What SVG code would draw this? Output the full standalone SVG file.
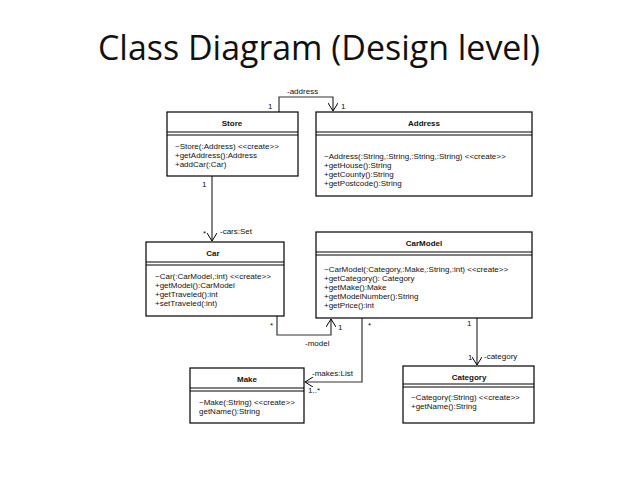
<svg xmlns="http://www.w3.org/2000/svg" width="638" height="478" viewBox="0 0 638 478">
<defs>
<style>
.b{fill:#fff;stroke:#000;stroke-width:1.2}
.l{stroke:#000;stroke-width:1;fill:none}
.c{stroke:#333;stroke-width:1.2;fill:none}
text{font-family:"Liberation Sans",Arial,sans-serif;font-size:8px;fill:#111}
.h{font-weight:bold;text-anchor:middle}
</style>
<marker id="a" markerWidth="10" markerHeight="10" refX="8" refY="5" orient="auto" markerUnits="userSpaceOnUse"><path d="M0,0 L8,5 L0,10" fill="none" stroke="#000" stroke-width="1"/></marker>
</defs>
<rect width="638" height="478" fill="#fff"/>
<text x="319" y="60" style="font-family:'Open Sans','Liberation Sans',sans-serif;font-size:34px;text-anchor:middle" textLength="442" lengthAdjust="spacingAndGlyphs">Class Diagram (Design level)</text>
<g id="connectors">
<path class="c" d="M279,112 V97 H333 V111" marker-end="url(#a)"/>
<text x="287" y="94">-address</text><text x="268" y="109">1</text><text x="341" y="109">1</text>
<path class="c" d="M212,176 V241" marker-end="url(#a)"/>
<text x="202" y="187">1</text><text x="203" y="236">*</text><text x="220" y="234">-cars:Set</text>
<path class="c" d="M277,316 V335 H331 V319" marker-end="url(#a)"/>
<text x="270" y="328">*</text><text x="338" y="330">1</text><text x="305" y="346">-model</text>
<path class="c" d="M362,318 V382 H305" marker-end="url(#a)"/>
<text x="368" y="328">*</text><text x="312" y="376">-makes:List</text><text x="308" y="393">1..*</text>
<path class="c" d="M477,318 V365" marker-end="url(#a)"/>
<text x="467" y="326">1</text><text x="468" y="360">1</text><text x="484" y="359">-category</text>
</g>
<g id="Store">
<rect class="b" x="167" y="112" width="131" height="64"/>
<path class="l" d="M167,132H298M167,135H298"/>
<text class="h" x="232" y="126">Store</text>
<text x="175" y="149">~Store(:Address) &lt;&lt;create&gt;&gt;</text>
<text x="175" y="158">+getAddress():Address</text>
<text x="175" y="167">+addCar(:Car)</text>
</g>
<g id="Address">
<rect class="b" x="316" y="112" width="216" height="84"/>
<path class="l" d="M316,132H532M316,135H532"/>
<text class="h" x="424" y="126">Address</text>
<text x="324" y="159">~Address(:String,:String,:String,:String) &lt;&lt;create&gt;&gt;</text>
<text x="324" y="168">+getHouse():String</text>
<text x="324" y="177">+getCounty():String</text>
<text x="324" y="186">+getPostcode():String</text>
</g>
<g id="Car">
<rect class="b" x="146" y="242" width="138" height="74"/>
<path class="l" d="M146,262H284M146,265H284"/>
<text class="h" x="213" y="256">Car</text>
<text x="155" y="279">~Car(:CarModel,:int) &lt;&lt;create&gt;&gt;</text>
<text x="155" y="288">+getModel():CarModel</text>
<text x="155" y="297">+getTraveled():int</text>
<text x="155" y="306">+setTraveled(:int)</text>
</g>
<g id="CarModel">
<rect class="b" x="316" y="232" width="216" height="86"/>
<path class="l" d="M316,252H532M316,255H532"/>
<text class="h" x="424" y="246">CarModel</text>
<text x="324" y="272">~CarModel(:Category,:Make,:String,:int) &lt;&lt;create&gt;&gt;</text>
<text x="324" y="281">+getCategory(): Category</text>
<text x="324" y="290">+getMake():Make</text>
<text x="324" y="299">+getModelNumber():String</text>
<text x="324" y="308">+getPrice():int</text>
</g>
<g id="Make">
<rect class="b" x="190" y="368" width="114" height="55"/>
<path class="l" d="M190,388H304M190,391H304"/>
<text class="h" x="247" y="382">Make</text>
<text x="199" y="405">~Make(:String) &lt;&lt;create&gt;&gt;</text>
<text x="199" y="414">getName():String</text>
</g>
<g id="Category">
<rect class="b" x="403" y="366" width="131" height="57"/>
<path class="l" d="M403,384H534M403,387H534"/>
<text class="h" x="469" y="380">Category</text>
<text x="411" y="400">~Category(:String) &lt;&lt;create&gt;&gt;</text>
<text x="411" y="409">+getName():String</text>
</g>
</svg>
